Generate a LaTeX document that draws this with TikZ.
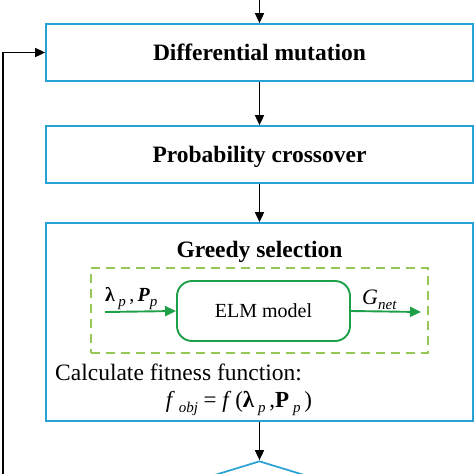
\documentclass[tikz,border=0pt]{standalone}
\usepackage{fontspec}
\setmainfont{Liberation Serif}
\usetikzlibrary{arrows.meta,shapes.geometric}
\definecolor{boxblue}{RGB}{40,162,212}
\definecolor{elmgreen}{RGB}{30,160,75}
\definecolor{dashgreen}{RGB}{150,200,85}
\newcommand{\sbs}[1]{\raisebox{-0.55ex}{\fontsize{15}{15}\selectfont\itshape #1}}
\begin{document}
\begin{tikzpicture}[x=1pt,y=-1pt,
  stage/.style={draw=boxblue, line width=1.7pt, rectangle, inner sep=0pt},
  flow/.style={draw=black, line width=1.6pt, -{Triangle[length=10pt,width=9pt]}},
  gflow/.style={draw=elmgreen, line width=1.9pt, -{Triangle[length=11pt,width=10pt]}},
  title/.style={font=\bfseries\fontsize{23.5}{26}\selectfont, inner sep=0pt, anchor=base}]
\clip (0,0) rectangle (474,474);
\fill[white] (0,0) rectangle (474,474);
% stage boxes
\node[stage, minimum width=427pt, minimum height=57pt] (mut) at (259.5,52.5) {};
\node[stage, minimum width=427pt, minimum height=57pt] (cross) at (259.5,154.5) {};
\node[stage, minimum width=427pt, minimum height=198pt] (greedy) at (259.5,322) {};
\node[title] (tmut) at (259.5,60) {Differential mutation};
\node[title] (tcross) at (259.5,162) {Probability crossover};
\node[title] (tgreedy) at (259.5,257) {Greedy selection};
% dashed region and ELM
\node[draw=dashgreen, dashed, dash pattern=on 9pt off 6pt, line width=1.7pt, minimum width=337pt, minimum height=85pt, inner sep=0pt] (dash) at (259.5,310.5) {};
\node[draw=elmgreen, line width=1.9pt, rounded corners=15pt, minimum width=173pt, minimum height=60pt, inner sep=0pt, font=\fontsize{20}{22}\selectfont] (elm) at (263.5,311) {ELM model};
\coordinate (in) at (105,312);
\coordinate (out) at (421,312);
\draw[gflow] (in) -- (elm.west);
\draw[gflow] (elm.east) -- (out);
\node[anchor=base west, inner sep=0pt, font=\fontsize{20}{22}\selectfont] (lin) at (105,301) {\textbf{λ}\,\sbs{p}\,,\,\textbf{\textit{P}}\sbs{p}};
\node[anchor=base west, inner sep=0pt, font=\fontsize{22}{24}\selectfont] (lout) at (362,304) {\textit{G}\sbs{net}};
% fitness text
\node[anchor=base west, inner sep=0pt, font=\fontsize{23.5}{26}\selectfont] (calc) at (55,380) {Calculate fitness function:};
\node[anchor=base, inner sep=0pt, font=\fontsize{23}{26}\selectfont] (fobj) at (239,407) {\textit{f}\,\sbs{obj} = \textit{f}\,(\textbf{λ}\,\sbs{p}\,,\textbf{P}\,\sbs{p}\,)};
% decision diamond
\node[draw=boxblue, line width=1.7pt, diamond, minimum width=300pt, minimum height=92pt, inner sep=0pt, aspect=3.3] (dec) at (259.5,507) {};
% connectors
\coordinate (top) at (259.5,0);
\coordinate (fbb) at (3,480);
\coordinate (fbt) at (3,52.5);
\draw[flow] (top) -- (mut.north);
\draw[flow] (mut.south) -- (cross.north);
\draw[flow] (cross.south) -- (greedy.north);
\draw[flow] (greedy.south) -- (dec.north);
\draw[flow] (fbb) -- (fbt) -- (mut.west);
\end{tikzpicture}
\end{document}
